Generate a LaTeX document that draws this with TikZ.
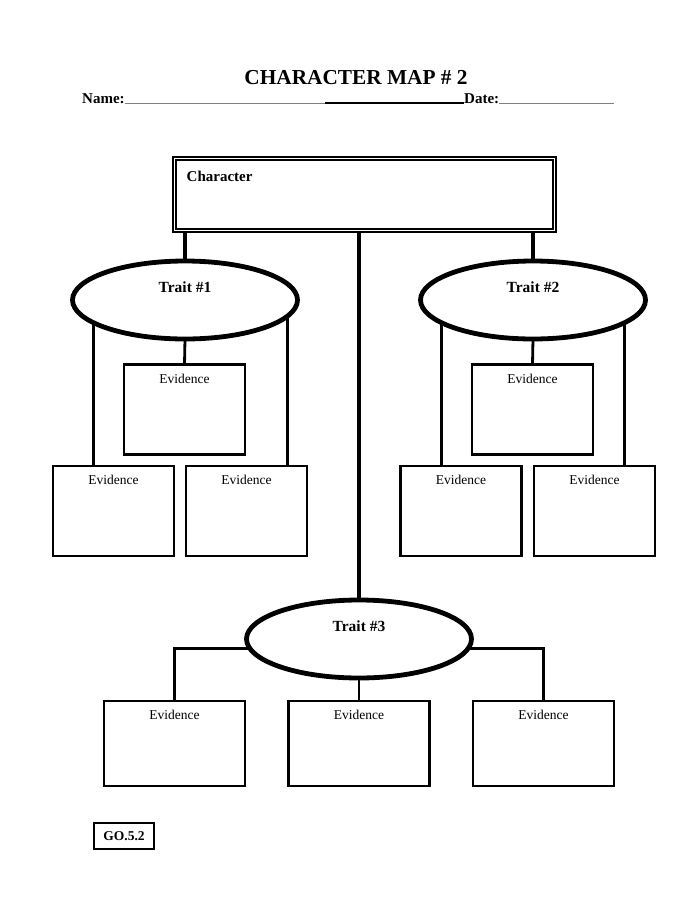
\documentclass[tikz,border=0pt]{standalone}
\usepackage{fontspec}
\setmainfont{Liberation Serif}
\usetikzlibrary{shapes.geometric}

\begin{document}
\begin{tikzpicture}[x=1pt,y=-1pt]
        \tikzstyle{hdr}=[font=\bfseries\fontsize{15}{18}\selectfont,inner sep=0pt]
        \tikzstyle{charbox}=[draw,double,double distance=1.2pt,line width=1.8pt,minimum width=380pt,minimum height=72pt,inner sep=0pt,outer sep=0pt]
        \tikzstyle{trait}=[draw,ellipse,line width=4.8pt,fill=white,minimum width=225pt,minimum height=78pt,inner sep=0pt,outer sep=0pt]
        \tikzstyle{tname}=[font=\bfseries\fontsize{15.5}{18}\selectfont,yshift=13pt]
        \tikzstyle{evidence}=[draw,line width=2.5pt,minimum width=121pt,minimum height=90pt,inner sep=0pt,outer sep=0pt,label={[evtext]north:Evidence}]
        \tikzstyle{evtext}=[anchor=north,yshift=-6pt,font=\fontsize{13.5}{16}\selectfont]
        \tikzstyle{trunk}=[line width=3.5pt]
        \tikzstyle{link}=[line width=2.8pt]
        \path[use as bounding box,fill=white] (0,0) rectangle (696,900);
        % heading
        \node[font=\bfseries\fontsize{21.3}{25}\selectfont,anchor=base] (title) at (356,84) {CHARACTER MAP \# 2};
        \node[hdr,anchor=base west] (name) at (82,103) {Name:};
        \node[hdr,anchor=base west] (date) at (464,103) {Date:};
        \draw[gray,line width=0.6pt] (name.base east) -- ++(200,0) coordinate (nend);
        \draw[line width=1.2pt] (nend) -- (date.base west);
        \draw[gray,line width=0.6pt] (date.base east) -- ++(115,0);
        % character and traits
        \node[charbox] (ch) at (364.5,194.5) {};
        \node[hdr,anchor=base west] (chname) at ([xshift=12pt,yshift=-22.5pt]ch.north west) {Character};
        \node[trait,label={[tname]center:Trait \#1}] (t1) at (185,300) {};
        \node[trait,label={[tname]center:Trait \#2}] (t2) at (533,300) {};
        \node[trait,label={[tname]center:Trait \#3}] (t3) at (359,639) {};
        % evidence boxes
        \node[evidence] (e1m) at (184.5,409.5) {};
        \node[evidence] (e1l) at (113.5,511) {};
        \node[evidence] (e1r) at (246.5,511) {};
        \node[evidence] (e2m) at (532.5,409.5) {};
        \node[evidence] (e2l) at (461,511) {};
        \node[evidence] (e2r) at (594.5,511) {};
        \node[evidence,minimum width=141pt,minimum height=85pt] (e3l) at (174.5,743.5) {};
        \node[evidence,minimum width=141pt,minimum height=85pt] (e3m) at (359,743.5) {};
        \node[evidence,minimum width=141pt,minimum height=85pt] (e3r) at (543.5,743.5) {};
        \node[draw,line width=2.2pt,minimum width=60pt,minimum height=26pt,font=\bfseries\fontsize{13.5}{16}\selectfont] (go) at (124,836) {GO.5.2};
        % connectors
        \draw[trunk] (ch.south -| t1.north) -- (t1.north);
        \draw[trunk] (ch.south -| t2.north) -- (t2.north);
        \draw[trunk] (ch.south -| t3.north) -- (t3.north);
        \draw[link] (t1.south) -- (e1m.north);
        \draw[link] (t1.194) -- (t1.194 |- e1l.north);
        \draw[link] (t1.351) -- (t1.351 |- e1r.north);
        \draw[link] (t2.south) -- (e2m.north);
        \draw[link] (t2.194) -- (t2.194 |- e2l.north);
        \draw[link] (t2.346) -- (t2.346 |- e2r.north);
        \draw[link] (t3.south) -- (e3m.north);
        \draw[link] (t3.185) -| (e3l.north);
        \draw[link] (t3.355) -| (e3r.north);
    \end{tikzpicture}
\end{document}
